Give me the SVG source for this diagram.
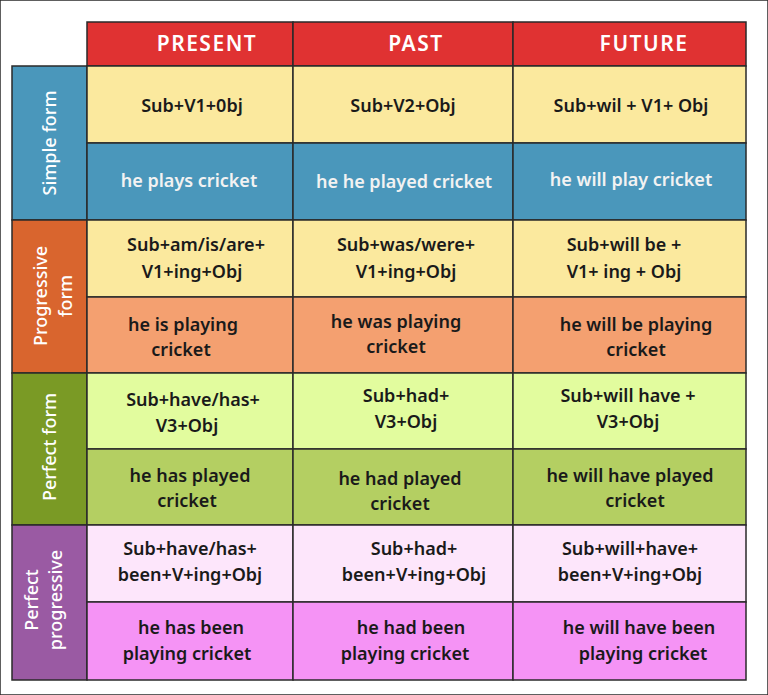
<svg xmlns="http://www.w3.org/2000/svg" width="768" height="695" viewBox="0 0 768 695">
<style>
rect{stroke:#2a2a2a;stroke-width:1.5}
text{font-family:"Noto Sans","Liberation Sans",sans-serif;font-size:18px;font-weight:600;text-anchor:middle;fill:#1a1a1a}
.h{fill:#fff;font-size:21px;letter-spacing:1.5px}
.w{fill:#f2f2f2}
.s{fill:#fff;font-size:18px;font-weight:500}
</style>
<rect x="0" y="0" width="768" height="695" fill="#fff" stroke="none"/>
<g id="header">
<rect x="87" y="22" width="206" height="44" fill="#e03232"/>
<rect x="293" y="22" width="220" height="44" fill="#e03232"/>
<rect x="513" y="22" width="233" height="44" fill="#e03232"/>
<text class="h" x="207" y="51">PRESENT</text>
<text class="h" x="416" y="51">PAST</text>
<text class="h" x="644" y="51">FUTURE</text>
</g>
<g id="side">
<rect x="12" y="66" width="75" height="154" fill="#4a97bb"/>
<rect x="12" y="220" width="75" height="153" fill="#d9652e"/>
<rect x="12" y="373" width="75" height="152" fill="#7a9a25"/>
<rect x="12" y="525" width="75" height="155" fill="#9a5aa3"/>
<text class="s" transform="translate(56,143) rotate(-90)">Simple form</text>
<text class="s" transform="rotate(-90)" x="-296" y="47">Progressive</text>
<text class="s" transform="rotate(-90)" x="-296" y="72">form</text>
<text class="s" transform="translate(56,447) rotate(-90)">Perfect form</text>
<text class="s" transform="rotate(-90)" x="-600" y="38">Perfect</text>
<text class="s" transform="rotate(-90)" x="-600" y="62">progressive</text>
</g>
<g id="row1">
<rect x="87" y="66" width="206" height="77" fill="#fbe99e"/><rect x="293" y="66" width="220" height="77" fill="#fbe99e"/><rect x="513" y="66" width="233" height="77" fill="#fbe99e"/>
<text x="192" y="112">Sub+V1+0bj</text><text x="403" y="112">Sub+V2+Obj</text><text x="631" y="112">Sub+wil + V1+ Obj</text>
</g>
<g id="row2">
<rect x="87" y="143" width="206" height="77" fill="#4a97bb"/><rect x="293" y="143" width="220" height="77" fill="#4a97bb"/><rect x="513" y="143" width="233" height="77" fill="#4a97bb"/>
<text class="w" x="189" y="187">he plays cricket</text><text class="w" x="404" y="188">he he played cricket</text><text class="w" x="631" y="186">he will play cricket</text>
</g>
<g id="row3">
<rect x="87" y="220" width="206" height="77" fill="#fbe99e"/><rect x="293" y="220" width="220" height="77" fill="#fbe99e"/><rect x="513" y="220" width="233" height="77" fill="#fbe99e"/>
<text x="196" y="251">Sub+am/is/are+</text><text x="192" y="278">V1+ing+Obj</text>
<text x="406" y="251">Sub+was/were+</text><text x="406" y="278">V1+ing+Obj</text>
<text x="624" y="251">Sub+will be +</text><text x="624" y="278">V1+ ing + Obj</text>
</g>
<g id="row4">
<rect x="87" y="297" width="206" height="76" fill="#f4a070"/><rect x="293" y="297" width="220" height="76" fill="#f4a070"/><rect x="513" y="297" width="233" height="76" fill="#f4a070"/>
<text x="183" y="331">he is playing</text><text x="181" y="356">cricket</text>
<text x="396" y="328">he was playing</text><text x="396" y="353">cricket</text>
<text x="636" y="331">he will be playing</text><text x="636" y="356">cricket</text>
</g>
<g id="row5">
<rect x="87" y="373" width="206" height="76" fill="#e2fc9e"/><rect x="293" y="373" width="220" height="76" fill="#e2fc9e"/><rect x="513" y="373" width="233" height="76" fill="#e2fc9e"/>
<text x="193" y="406">Sub+have/has+</text><text x="187" y="432">V3+Obj</text>
<text x="406" y="402">Sub+had+</text><text x="406" y="428">V3+Obj</text>
<text x="628" y="402">Sub+will have +</text><text x="628" y="428">V3+Obj</text>
</g>
<g id="row6">
<rect x="87" y="449" width="206" height="76" fill="#b4cf62"/><rect x="293" y="449" width="220" height="76" fill="#b4cf62"/><rect x="513" y="449" width="233" height="76" fill="#b4cf62"/>
<text x="190" y="482">he has played</text><text x="187" y="507">cricket</text>
<text x="400" y="485">he had played</text><text x="400" y="510">cricket</text>
<text x="630" y="482">he will have played</text><text x="635" y="507">cricket</text>
</g>
<g id="row7">
<rect x="87" y="525" width="206" height="77" fill="#fde6fb"/><rect x="293" y="525" width="220" height="77" fill="#fde6fb"/><rect x="513" y="525" width="233" height="77" fill="#fde6fb"/>
<text x="190" y="555">Sub+have/has+</text><text x="190" y="581">been+V+ing+Obj</text>
<text x="414" y="555">Sub+had+</text><text x="414" y="581">been+V+ing+Obj</text>
<text x="630" y="555">Sub+will+have+</text><text x="630" y="581">been+V+ing+Obj</text>
</g>
<g id="row8">
<rect x="87" y="602" width="206" height="78" fill="#f593f5"/><rect x="293" y="602" width="220" height="78" fill="#f593f5"/><rect x="513" y="602" width="233" height="78" fill="#f593f5"/>
<text x="191" y="634">he has been</text><text x="187" y="660">playing cricket</text>
<text x="411" y="634">he had been</text><text x="405" y="660">playing cricket</text>
<text x="639" y="634">he will have been</text><text x="643" y="660">playing cricket</text>
</g>
</svg>
